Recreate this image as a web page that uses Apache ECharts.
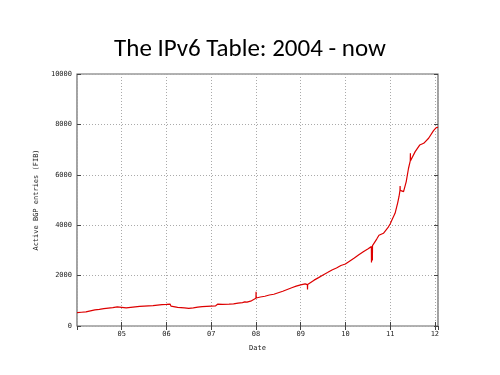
<!DOCTYPE html>
<html><head><meta charset="utf-8">
<script src="https://cdn.jsdelivr.net/npm/echarts@6/dist/echarts.min.js"></script>
<style>html,body{margin:0;padding:0;background:#fff}#c{width:500px;height:375px}</style>
</head><body><div id="c"></div>
<script>
const titleText = "The IPv6 Table: 2004 - now";
const xName = "Date";
const yName = "Active BGP entries (FIB)";
const yTicks = [0, 2000, 4000, 6000, 8000, 10000];
const dates = [2004.00,2004.10,2004.20,2004.30,2004.40,2004.50,2004.60,2004.70,2004.80,2004.90,2005.00,2005.10,2005.20,2005.30,2005.40,2005.50,2005.60,2005.70,2005.80,2005.90,2006.00,2006.08,2006.10,2006.12,2006.25,2006.40,2006.50,2006.60,2006.70,2006.80,2006.90,2007.00,2007.10,2007.15,2007.25,2007.40,2007.50,2007.60,2007.70,2007.75,2007.80,2007.90,2008.00,2008.003,2008.006,2008.10,2008.20,2008.30,2008.40,2008.50,2008.60,2008.70,2008.80,2008.90,2009.00,2009.10,2009.15,2009.153,2009.156,2009.20,2009.30,2009.40,2009.50,2009.60,2009.70,2009.80,2009.90,2010.00,2010.10,2010.20,2010.30,2010.40,2010.50,2010.58,2010.583,2010.586,2010.60,2010.603,2010.606,2010.64,2010.70,2010.75,2010.85,2010.95,2011.00,2011.05,2011.11,2011.17,2011.20,2011.22,2011.223,2011.226,2011.30,2011.36,2011.41,2011.45,2011.453,2011.456,2011.56,2011.66,2011.75,2011.86,2011.97,2012.03,2012.07];
const entries = [530,545,560,600,640,660,690,710,730,760,740,720,740,760,780,790,800,810,830,850,860,870,790,750,740,720,700,720,750,770,780,790,800,870,860,870,880,910,930,960,950,1000,1100,1360,1110,1150,1180,1230,1260,1320,1380,1450,1520,1580,1630,1670,1640,1450,1650,1720,1820,1920,2024,2120,2220,2300,2400,2460,2580,2700,2830,2950,3060,3150,2520,3160,3180,2600,3190,3250,3450,3600,3680,3900,4050,4250,4470,4900,5150,5380,5550,5380,5330,5730,6250,6550,6850,6560,6920,7180,7250,7450,7750,7870,7880];

const mono = "DejaVu Sans Mono";
const chart = echarts.init(document.getElementById('c'), null, {renderer:'canvas'});
const xMin = 2004, xMax = 2012.07;
function yearLabel(v){
  const r = Math.round(v);
  if (Math.abs(v - r) > 0.001 || r <= 2004) return '';
  return String(r % 100).padStart(2,'0');
}
chart.setOption({
  animation:false,
  title:{text:titleText,left:'center',top:32,textStyle:{fontFamily:"Carlito, Lato, sans-serif",fontWeight:'normal',fontSize:25,color:'#000'}},
  grid:{left:77,right:62,top:74,bottom:49,show:true,borderColor:'#666',borderWidth:1.2,backgroundColor:'transparent'},
  xAxis:[{type:'value',min:xMin,max:xMax,interval:1,
    name:xName,nameLocation:'middle',nameGap:19,nameTextStyle:{fontFamily:mono,fontSize:7,color:'#222'},
    axisLine:{show:false},axisTick:{show:true,inside:true,length:4,lineStyle:{color:'#444'}},
    axisLabel:{formatter:yearLabel,fontFamily:mono,fontSize:7,color:'#222',margin:5,showMaxLabel:false,showMinLabel:false},
    splitLine:{show:true,lineStyle:{color:'#aaa',type:[1,2],width:1}}},
   {type:'value',position:'top',min:xMin,max:xMax,interval:1,
    axisLine:{show:false},axisTick:{show:true,inside:true,length:4,lineStyle:{color:'#444'}},
    axisLabel:{show:false},splitLine:{show:false}}],
  yAxis:[{type:'value',min:yTicks[0],max:yTicks[yTicks.length-1],interval:yTicks[1]-yTicks[0],
    name:yName,nameLocation:'middle',nameGap:30,nameRotate:90,nameTextStyle:{fontFamily:mono,fontSize:7,color:'#222'},
    axisLine:{show:false},axisTick:{show:true,inside:true,length:4,lineStyle:{color:'#444'}},
    axisLabel:{formatter:v=>String(v),fontFamily:mono,fontSize:7,color:'#222',margin:5},
    splitLine:{show:true,lineStyle:{color:'#aaa',type:[1,2],width:1}}},
   {type:'value',position:'right',min:yTicks[0],max:yTicks[yTicks.length-1],interval:yTicks[1]-yTicks[0],
    axisLine:{show:false},axisTick:{show:true,inside:true,length:4,lineStyle:{color:'#444'}},
    axisLabel:{show:false},splitLine:{show:false}}],
  series:[{type:'line',xAxisIndex:0,yAxisIndex:0,showSymbol:false,symbol:'none',
    data:dates.map((d,i)=>[d,entries[i]]),lineStyle:{color:'#dd0000',width:1.2}}]
});
</script></body></html>
